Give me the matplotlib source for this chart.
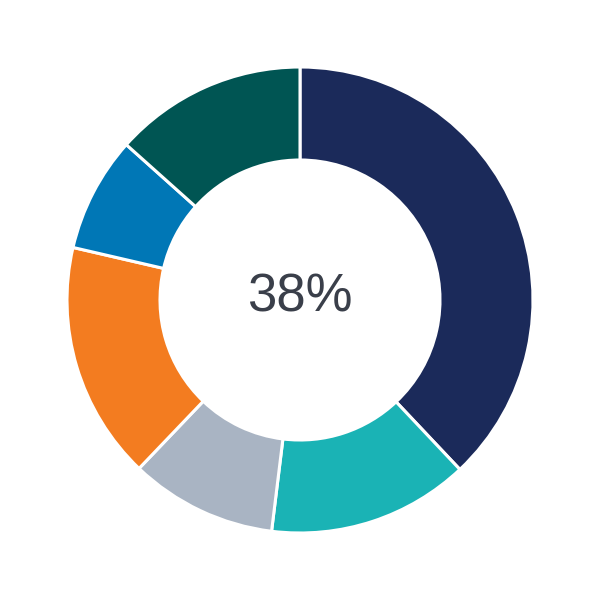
import matplotlib.pyplot as plt

# segment shares, clockwise from 12 o'clock
labels = ["A", "B", "C", "D", "E", "F"]
values = [38, 14, 10.2, 16.5, 8, 13.4]
colors = ["#1b2a5a", "#1ab3b5", "#a9b4c3", "#f37c20", "#0077b6", "#005553"]
center_label = "38%"

fig = plt.figure(figsize=(6, 6), dpi=100)
ax = fig.add_axes([0, 0, 1, 1])

outer = 233
inner = 140
ax.pie(values, colors=colors, startangle=90, counterclock=False,
       radius=1, wedgeprops=dict(width=1 - inner / outer, edgecolor="white", linewidth=2.2))

ax.text(0, 0.01, center_label, ha="center", va="center", fontsize=38,
        color="#3a3f4a", family=["Liberation Sans", "DejaVu Sans"])

lim = 300 / outer
ax.set_xlim(-lim, lim)
ax.set_ylim(-lim, lim)
ax.set_aspect("equal")
ax.axis("off")

fig.savefig("out.png", dpi=100, facecolor="white")
